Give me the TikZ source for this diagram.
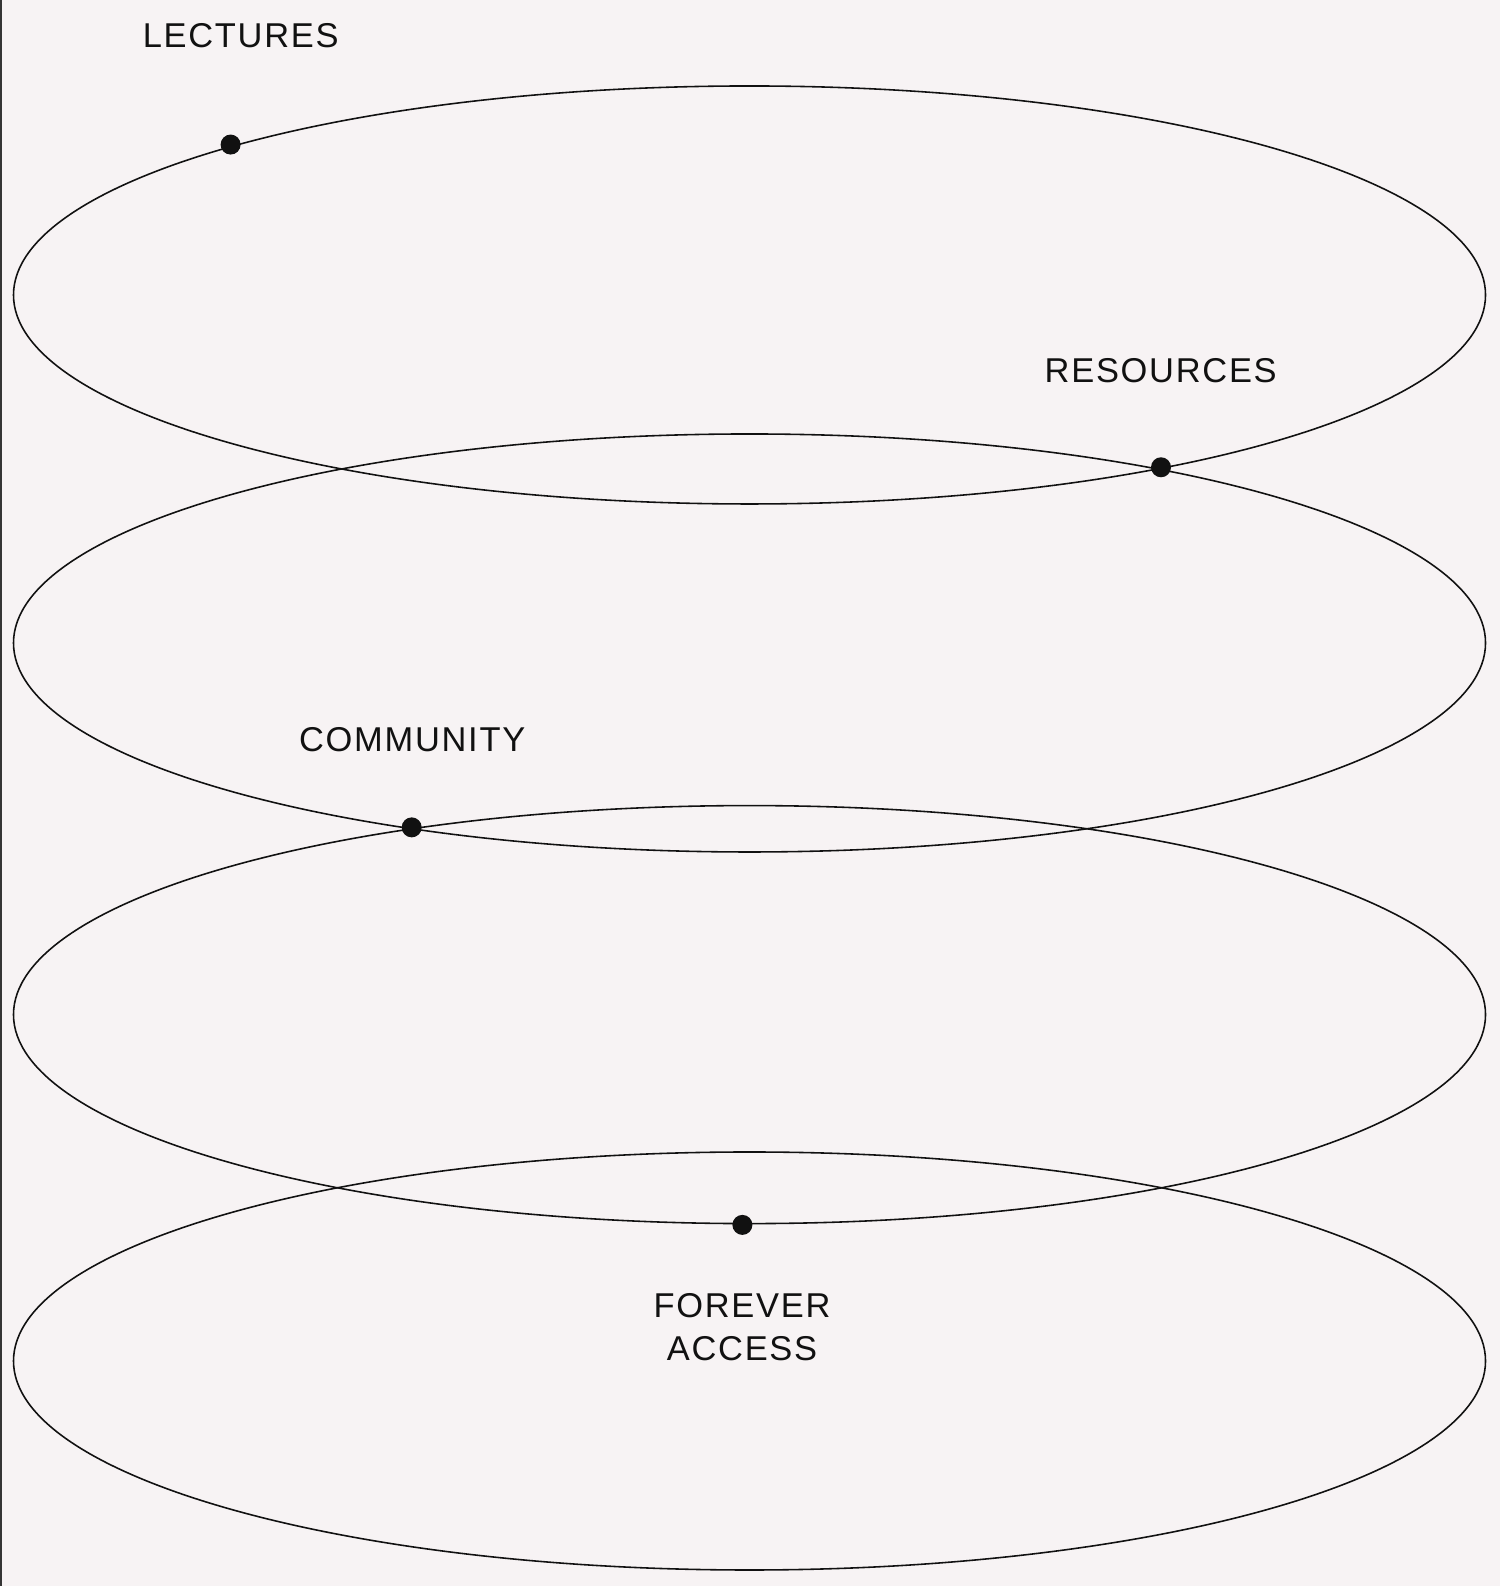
\documentclass[tikz,border=0pt]{standalone}
\usepackage{fontspec}
\setmainfont{Liberation Sans}[LetterSpace=5]
\usepackage{tikz}
\definecolor{paper}{RGB}{247,243,244}
\definecolor{ink}{RGB}{17,17,17}
\tikzset{ring/.style = {draw = ink, line width = 0.45pt}}
\tikzset{dot/.style = {shape = circle, fill = ink, inner sep = 0pt, minimum size = 0.2cm}}
\tikzset{word/.style = {text = ink, inner sep = 0pt, align = center, font = \fontsize{9.8}{12.1}\selectfont}}

\begin{document}
\begin{tikzpicture}
			\fill[paper] (0, 0) rectangle (15, 15.86);
			\useasboundingbox (0, 0) rectangle (15, 15.86);
			\draw[ink!85, line width = 0.6pt] (0.01, 0) -- (0.01, 15.86);

			\draw[ring] (7.495, 12.91) ellipse [x radius = 7.36cm, y radius = 2.09cm];
			\draw[ring] (7.495, 9.43) ellipse [x radius = 7.36cm, y radius = 2.09cm];
			\draw[ring] (7.495, 5.714) ellipse [x radius = 7.36cm, y radius = 2.09cm];
			\draw[ring] (7.495, 2.25) ellipse [x radius = 7.36cm, y radius = 2.09cm];

			\node[dot] (lec) at (2.306, 14.414) {};
			\node[dot] (res) at (11.61, 11.187) {};
			\node[dot] (com) at (4.117, 7.586) {};
			\node[dot] (acc) at (7.424, 3.611) {};

			\node[word] (leclabel) at (2.407, 15.506) {LECTURES};
			\node[word] (reslabel) at (11.607, 12.158) {RESOURCES};
			\node[word] (comlabel) at (4.122, 8.466) {COMMUNITY};
			\node[word] (acclabel) at (7.42, 2.59) {FOREVER\\ACCESS};
		\end{tikzpicture}
\end{document}
